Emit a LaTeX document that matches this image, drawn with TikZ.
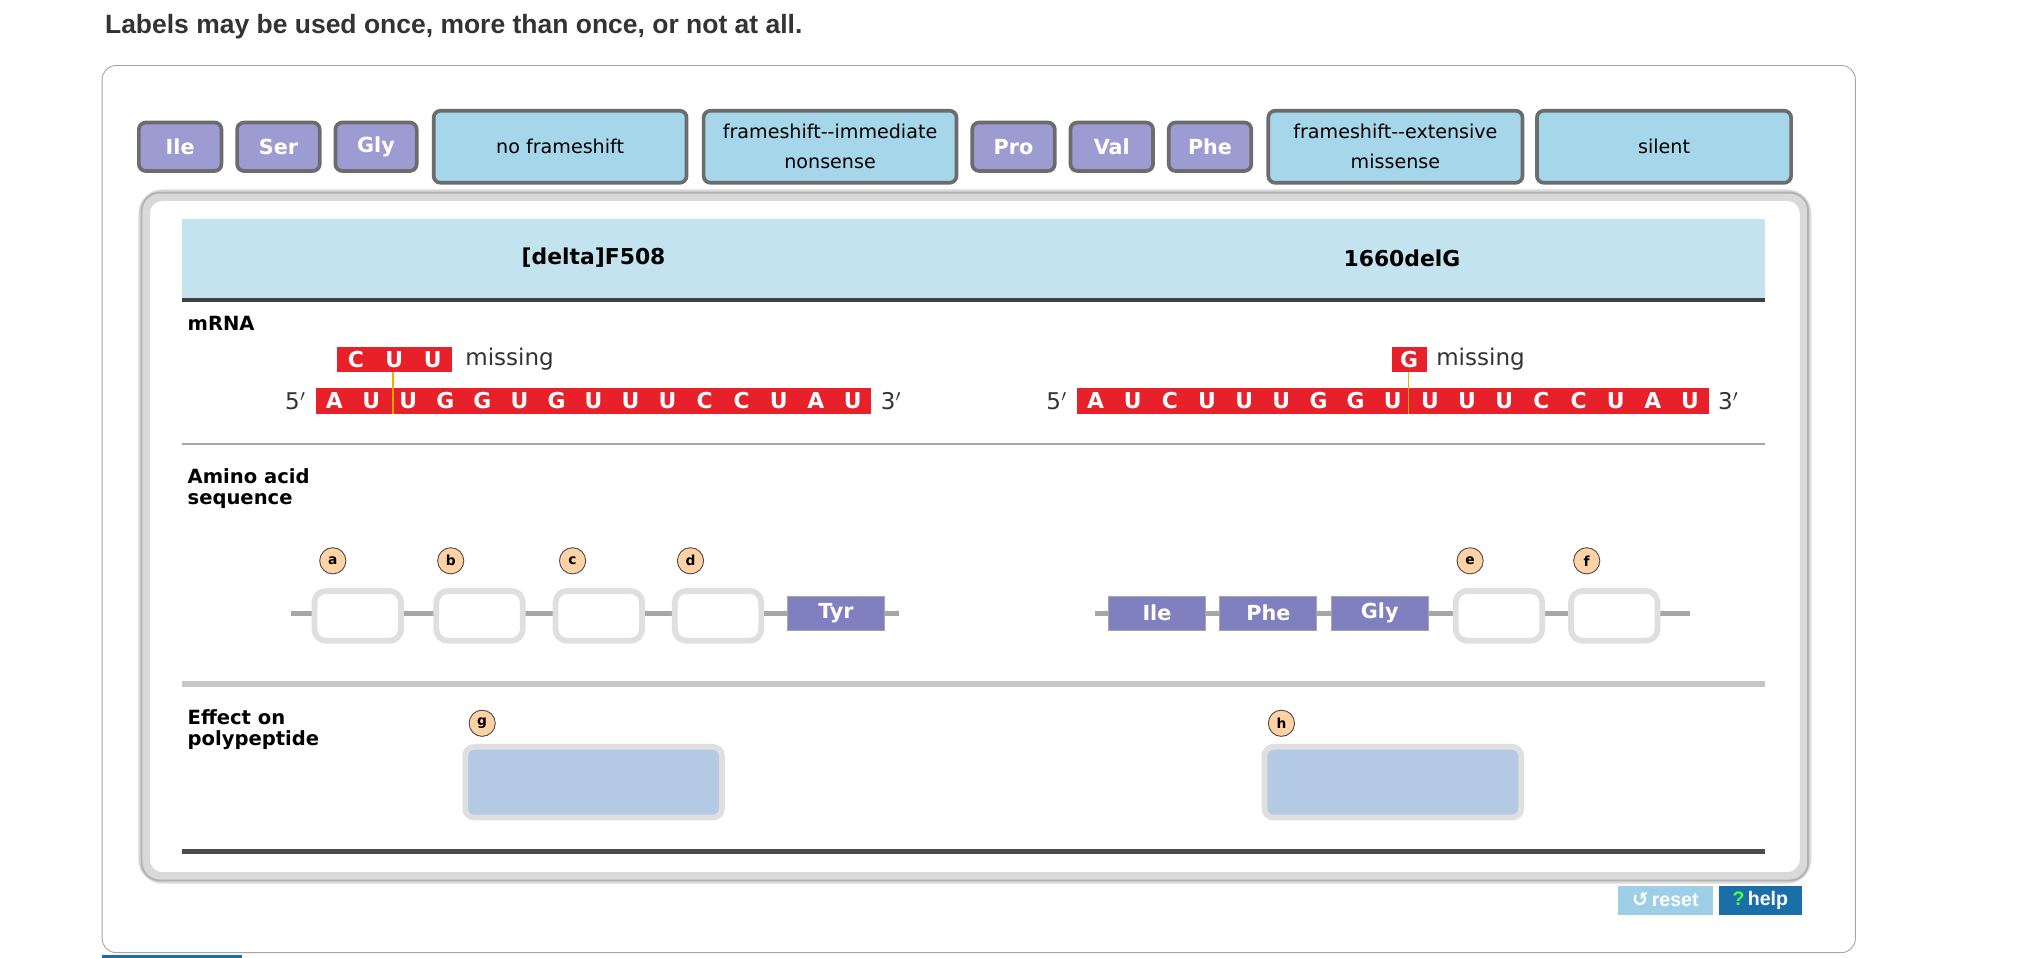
\documentclass[tikz,border=0pt]{standalone}
\usepackage{fontspec}
\setmainfont{DejaVu Sans}
\newfontfamily\arl{Liberation Sans}
\newfontfamily\djv{DejaVu Sans}
\definecolor{labfill}{HTML}{9C9CD3}
\definecolor{lblfill}{HTML}{A6D6E9}
\definecolor{aafill}{HTML}{8080C0}
\definecolor{hdfill}{HTML}{C3E3EF}
\definecolor{ansfill}{HTML}{B3C9E4}
\definecolor{rnared}{HTML}{E8202A}
\definecolor{helpblue}{HTML}{1B6FA8}
\definecolor{resetblue}{HTML}{9FCFE6}
\begin{document}
\begin{tikzpicture}[x=0.02cm,y=-0.02cm,
 lab/.style={draw=gray!85!black,line width=1.6pt,rounded corners=3pt,fill=labfill,text=white,font=\bfseries\fontsize{9}{10}\selectfont,inner sep=0},
 lbl/.style={draw=gray!85!black,line width=1.6pt,rounded corners=3pt,fill=lblfill,font=\fontsize{8.3}{13}\selectfont,align=center,inner sep=0},
 slot/.style={draw=gray!25,line width=2.5pt,rounded corners=5pt,fill=white,minimum width=66*0.02cm,minimum height=38*0.02cm},
 aa/.style={draw=gray!70,fill=aafill,text=white,font=\bfseries\fontsize{9}{10}\selectfont,minimum width=74*0.02cm,minimum height=26*0.02cm,inner sep=0},
 circ/.style={circle,draw=gray!60!black,fill=orange!35,font=\bfseries\fontsize{6}{6}\selectfont,inner sep=0,minimum size=20*0.02cm},
 base/.style={font=\bfseries\fontsize{9.5}{10}\selectfont,text=white},
 hd/.style={font=\bfseries\fontsize{9.5}{10}\selectfont},
 sl/.style={font=\bfseries\fontsize{8.5}{10}\selectfont,anchor=west,align=left},
 ans/.style={draw=gray!25,line width=2.5pt,rounded corners=4pt,fill=ansfill,minimum width=196*0.02cm,minimum height=54*0.02cm}]
\useasboundingbox (0,0) rectangle (1560,731);
\fill[white] (0,0) rectangle (1560,731);
\node[anchor=west,font=\arl\bfseries\fontsize{11.5}{13}\selectfont,text=black!80] (title) at (74,20) {Labels may be used once, more than once, or not at all.};
\draw[gray!70,rounded corners=6pt] (78,50) rectangle (1416,727);
\fill[helpblue] (78,729) rectangle (185,731);
% label row
\foreach \n/\a/\b/\t in {ile/106/169/Ile,ser/181/244/Ser,gly/256/318/Gly,pro/742/805/Pro,val/817/880/Val,phe/892/955/Phe}
 \node[lab,minimum width={(\b-\a)*0.02cm},minimum height=37*0.02cm] (\n) at ({(\a+\b)/2},112) {\t};
\foreach \n/\a/\b/\t in {nf/331/524/no frameshift,fi/537/730/{frameshift-{}-immediate\\nonsense},fe/968/1162/{frameshift-{}-extensive\\missense},si/1173/1367/silent}
 \node[lbl,minimum width={(\b-\a)*0.02cm},minimum height=55*0.02cm] (\n) at ({(\a+\b)/2},112) {\t};
% panel
\draw[gray!30,line width=5pt,rounded corners=8pt] (110,149) rectangle (1378,670);
\draw[gray!60,line width=0.8pt,rounded corners=8pt] (108,147) rectangle (1380,672);
\fill[hdfill] (139,167) rectangle (1347,229);
\draw[black!75,line width=1.5pt] (139,229) -- (1347,229);
\node[hd] (h1) at (453,197) {[delta]F508};
\node[hd] (h2) at (1070,197) {1660delG};
\node[sl] (mrna) at (137,247) {mRNA};
% left strand
\fill[rnared] (257,265) rectangle (345,284);
\foreach \l [count=\i] in {C,U,U} \node[base] at ({257+29.3*(\i-0.5)},274.5) {\l};
\node[anchor=west,font=\fontsize{10}{10}\selectfont,text=black!80] (m1) at (349,274) {missing};
\fill[rnared] (241,296) rectangle (665,316);
\foreach \l [count=\i] in {A,U,U,G,G,U,G,U,U,U,C,C,U,A,U} \node[base] at ({241+424/15*(\i-0.5)},306) {\l};
\draw[orange!70!yellow,line width=0.8pt] (300,284) -- (300,316);
\node[anchor=east,font=\fontsize{10}{10}\selectfont,text=black!80] (p5a) at (240,306) {5$'$};
\node[anchor=west,font=\fontsize{10}{10}\selectfont,text=black!80] (p3a) at (666,306) {3$'$};
% right strand
\fill[rnared] (1062,265) rectangle (1089,284);
\node[base] at (1075.5,274.5) {G};
\node[anchor=west,font=\fontsize{10}{10}\selectfont,text=black!80] (m2) at (1090,274) {missing};
\fill[rnared] (822,296) rectangle (1304,316);
\foreach \l [count=\i] in {A,U,C,U,U,U,G,G,U,U,U,U,C,C,U,A,U} \node[base] at ({822+482/17*(\i-0.5)},306) {\l};
\draw[orange!70!yellow,line width=0.8pt] (1075,284) -- (1075,316);
\node[anchor=east,font=\fontsize{10}{10}\selectfont,text=black!80] (p5b) at (821,306) {5$'$};
\node[anchor=west,font=\fontsize{10}{10}\selectfont,text=black!80] (p3b) at (1305,306) {3$'$};
\draw[gray!70,line width=1pt] (139,339) -- (1347,339);
\node[sl] (aas) at (137,373) {Amino acid\\[-1pt]sequence};
% chains
\draw[gray!70,line width=2pt] (222,468) coordinate (l0) -- (686,468) coordinate (l1);
\draw[gray!70,line width=2pt] (836,468) coordinate (r0) -- (1290,468) coordinate (r1);
\foreach \n/\x/\c in {a/273/254,b/366/344,c/457/437,d/548/527,e/1144/1122,f/1232/1211}{
 \node[slot] (s\n) at (\x,470) {};
 \node[circ] (c\n) at (\c,428) {\n};}
\node[aa] (tyr) at (638,468) {Tyr};
\node[aa] (ile2) at (883,468) {Ile};
\node[aa] (phe2) at (968,468) {Phe};
\node[aa] (gly2) at (1053,468) {Gly};
\draw[gray!45,line width=2.5pt] (139,522) -- (1347,522);
\node[sl] (eff) at (137,557) {Effect on\\[-1pt]polypeptide};
\node[circ] (cg) at (368,552) {g};
\node[circ] (ch) at (978,552) {h};
\node[ans] (bg) at (453,597) {};
\node[ans] (bh) at (1063,597) {};
\draw[gray!60!black,line width=2pt] (139,650) -- (1347,650);
\node[fill=resetblue,text=white,font=\arl\bfseries\fontsize{8.5}{9}\selectfont,minimum width=72*0.02cm,minimum height=22*0.02cm,inner sep=0] (reset) at (1271,687) {{\djv ↺}\,reset};
\node[fill=helpblue,text=white,font=\arl\bfseries\fontsize{8.5}{9}\selectfont,minimum width=63*0.02cm,minimum height=22*0.02cm,inner sep=0] (help) at (1343.5,687) {\textcolor{green!70}{?}\,help};
\end{tikzpicture}
\end{document}
